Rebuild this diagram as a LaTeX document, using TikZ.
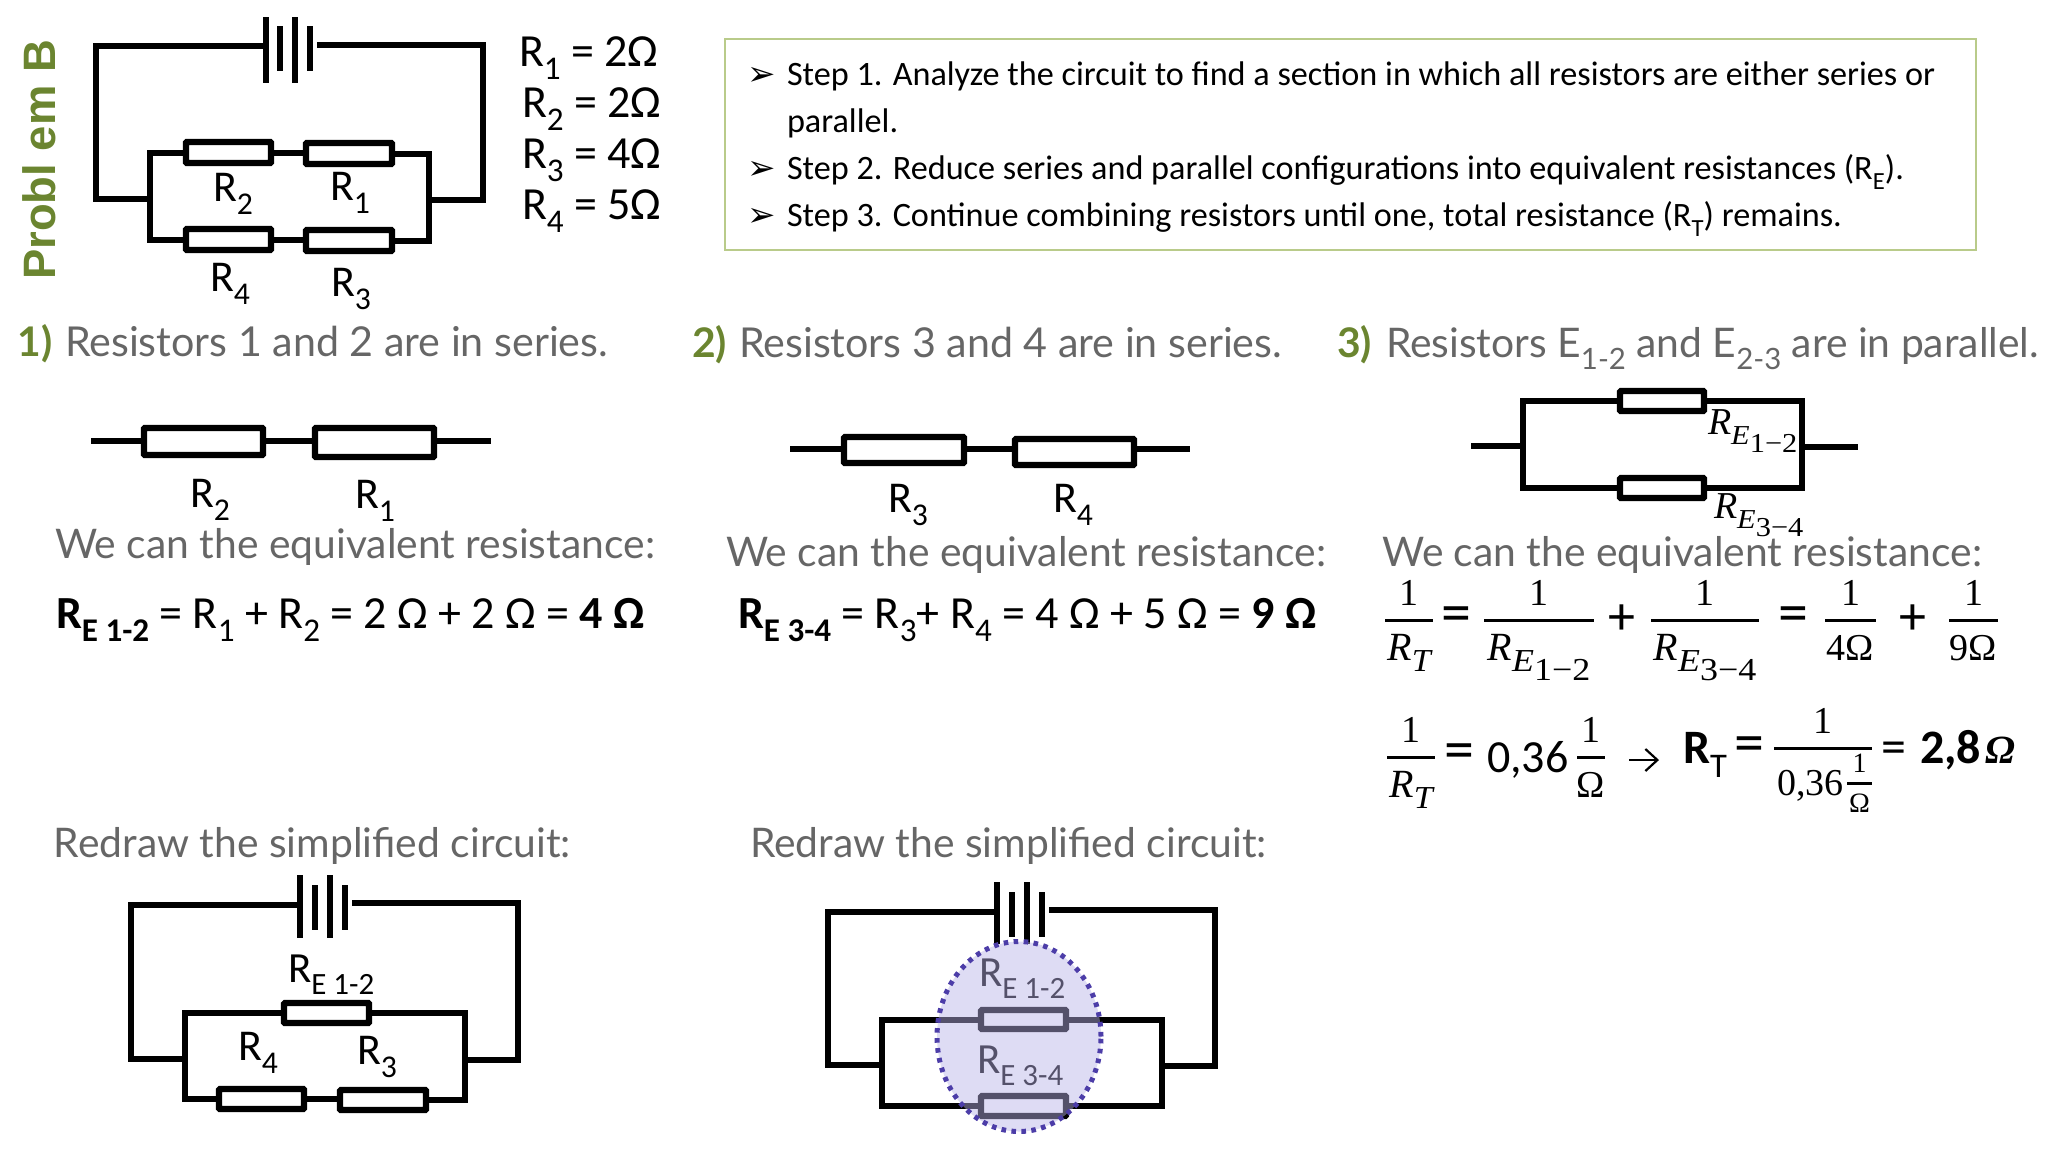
\documentclass[tikz,border=0pt]{standalone}
\usepackage[no-math]{fontspec}
\usetikzlibrary{shapes.geometric,arrows.meta}
\setmainfont{Carlito}
\newfontfamily\latof{Lato}
\newfontfamily\dvf{DejaVu Sans}
\newfontfamily\libf{Liberation Sans}
\newfontfamily\mthf{Liberation Serif}
\definecolor{olivegr}{HTML}{6B8530}
\definecolor{txtgray}{HTML}{666666}
\definecolor{boxgr}{HTML}{B9CB8A}
\definecolor{ellfill}{rgb}{.72,.70,.91}
\definecolor{elldot}{HTML}{4C3DA8}
\newcounter{tn}
\newcommand{\fsz}[1]{\fontsize{#1}{#1}\selectfont}
\newcommand{\sbs}[1]{\raisebox{-.3em}{\scalebox{.72}{#1}}}
\newcommand{\mR}[2]{{\mthf\itshape R\raisebox{-.28em}{\scalebox{.8}[.72]{E\raisebox{-.28em}{\upshape #1−#2}}}}}
\newcommand{\mRb}[2]{{\fsz{20}\mthf\itshape R\raisebox{-.28em}{\scalebox{.9}[.8]{E\raisebox{-.28em}{\upshape #1−#2}}}}}
\newcommand{\mRT}{{\fsz{20}\mthf\itshape R\raisebox{-.28em}{\scalebox{.85}[.8]{T}}}}
\newcommand{\Tx}[4]{\stepcounter{tn}\node[lbl,#3] (t\thetn) at (#1,#2) {#4};}
\newcommand{\Rs}[5]{\pgfmathsetmacro\rcx{(#2+#3)/2}\pgfmathsetmacro\rcy{(#4+#5)/2}\pgfmathsetmacro\rww{(#3-#2)*.5}\pgfmathsetmacro\rhh{(#5-#4)*.5}\node[resbox,minimum width=\rww pt,minimum height=\rhh pt] (#1) at (\rcx,\rcy) {};}
\newcommand{\Pl}[4]{\pgfmathsetmacro\rcy{(#3+#4)/2}\pgfmathsetmacro\rhh{(#4-#3)*.5}\node[plate,minimum height=\rhh pt] (#1) at (#2,\rcy) {};}
\newcommand{\Fr}[7]{\pgfmathsetmacro\fcx{(#1+#2)/2}\draw[fracbar] (#1,#3) -- (#2,#3);\Tx{\fcx}{#4}{anchor=base}{\mthf\fsz{19}#6}\Tx{\fcx}{#5}{anchor=base}{\mthf\fsz{19}#7}}
\newcommand{\lz}{\latof\fsz{20.4}}
\newcommand{\lzb}{\latof\fsz{20.6}}
\newcommand{\eqf}{\fsz{30}}
\newcommand{\plf}{\fsz{27}}
\tikzset{
  lbl/.style={inner sep=0,outer sep=0,anchor=base west,text=black},
  gray/.style={text=txtgray},
  resbox/.style={draw=black,line width=3.2pt,fill=white,inner sep=0,outer sep=0,rounded corners=.5pt},
  plate/.style={fill=black,inner sep=0,outer sep=0,minimum width=3pt},
  wire/.style={draw=black,line width=3pt,line join=miter},
  fracbar/.style={draw=black,line width=1.5pt},
  eqsign/.style={anchor=center}
}
\begin{document}
\begin{tikzpicture}[x=.5pt,y=-.5pt]
\useasboundingbox (0,0) rectangle (2048,1152);
% title
\node[inner sep=0,rotate=90,text=olivegr] (title) at (39,160) {\libf\bfseries\fsz{22.7}Probl em B};
% main circuit
\Pl{mb1}{266}{17}{83}\Pl{mb2}{280}{26}{71}\Pl{mb3}{295}{17}{83}\Pl{mb4}{310}{26}{71}
\coordinate (m1) at (96,46);\coordinate (m2) at (96,199);\coordinate (lb) at (150,199);
\coordinate (m4) at (317,45);\coordinate (m5) at (483,45);\coordinate (m6) at (483,200);\coordinate (rb) at (429,200);
\Rs{R2}{186}{271}{142}{163}\Rs{R1}{306}{392}{143}{164}\Rs{R4}{186}{271}{229}{250}\Rs{R3}{306}{392}{230}{251}
\draw[wire] (mb1 |- m1) -- (m1) -- (m2) -- (lb);
\draw[wire] (m4) -- (m5) -- (m6) -- (rb);
\draw[wire] (R2.west) -| (lb) |- (R4.west);
\draw[wire] (R1.east) -| (rb) |- (R3.east);
\draw[wire] (R2.east) -- (R2.east -| R1.west);
\draw[wire] (R4.east) -- (R4.east -| R3.west);
\Tx{213}{201}{}{\fsz{22}R\sbs{2}}
\Tx{330}{200}{}{\fsz{22}R\sbs{1}}
\Tx{210}{291}{}{\fsz{22}R\sbs{4}}
\Tx{331}{296}{}{\fsz{22}R\sbs{3}}
\Tx{519}{66}{}{\fsz{23}R\sbs{1} = 2Ω}
\Tx{522}{117}{}{\fsz{23}R\sbs{2} = 2Ω}
\Tx{522}{168}{}{\fsz{23}R\sbs{3} = 4Ω}
\Tx{522}{219}{}{\fsz{23}R\sbs{4} = 5Ω}
% steps
\coordinate (bx1) at (725,39);\coordinate (bx2) at (1976,250);
\draw[draw=boxgr,line width=.9pt] (bx1) rectangle (bx2);
\Tx{747}{85}{}{\dvf\fsz{17}➢}
\Tx{747}{179}{}{\dvf\fsz{17}➢}
\Tx{747}{226}{}{\dvf\fsz{17}➢}
\Tx{787}{85}{}{\fsz{17.1}Step 1. Analyze the circuit to find a section in which all resistors are either series or}
\Tx{787}{132}{}{\fsz{17.1}parallel.}
\Tx{787}{179}{}{\fsz{17.1}Step 2. Reduce series and parallel configurations into equivalent resistances (R\sbs{E}).}
\Tx{787}{226}{}{\fsz{17.1}Step 3. Continue combining resistors until one, total resistance (R\sbs{T}) remains.}
% headings
\Tx{18}{356}{text=olivegr}{\latof\bfseries\fsz{20.4}1)}
\Tx{65}{356}{gray}{\lzb Resistors 1 and 2 are in series.}
\Tx{692}{357}{text=olivegr}{\latof\bfseries\fsz{20.4}2)}
\Tx{739}{357}{gray}{\lzb Resistors 3 and 4 are in series.}
\Tx{1337}{357}{text=olivegr}{\latof\bfseries\fsz{20.4}3)}
\Tx{1386}{357}{gray}{\lz Resistors E\sbs{1-2} and E\sbs{2-3} are in parallel.}
% series 1
\Rs{sa2}{144}{263}{428}{455}\Rs{sa1}{315}{434}{428}{457}
\coordinate (sal) at (91,441);\coordinate (sar) at (491,441);
\draw[wire] (sal -| sa2.west) -- (sal);\draw[wire] (sa2.east |- sal) -- (sa1.west |- sal);\draw[wire] (sa1.east |- sal) -- (sar);
\Tx{190}{507}{}{\fsz{22}R\sbs{2}}
\Tx{355}{508}{}{\fsz{22}R\sbs{1}}
\Tx{55}{558}{gray}{\lz We can the equivalent resistance:}
\Tx{56}{628}{}{\fsz{23}\textbf{R\sbs{E 1-2}} = R\sbs{1} + R\sbs{2} = 2 Ω + 2 Ω = \textbf{4 Ω}}
% series 2
\Rs{sb3}{844}{964}{437}{463}\Rs{sb4}{1015}{1134}{439}{465}
\coordinate (sbl) at (790,449);\coordinate (sbr) at (1190,449);
\draw[wire] (sbl) -- (sb3.west |- sbl);\draw[wire] (sb3.east |- sbl) -- (sb4.west |- sbl);\draw[wire] (sb4.east |- sbl) -- (sbr);
\Tx{888}{512}{}{\fsz{22}R\sbs{3}}
\Tx{1053}{512}{}{\fsz{22}R\sbs{4}}
\Tx{726}{566}{gray}{\lz We can the equivalent resistance:}
\Tx{738}{628}{}{\fsz{23}\textbf{R\sbs{E 3-4}} = R\sbs{3}+ R\sbs{4} = 4 Ω + 5 Ω = \textbf{9 Ω}}
% parallel
\Rs{pa}{1620}{1704}{391}{411}\Rs{pb}{1620}{1704}{478}{498}
\coordinate (pl) at (1471,446);\coordinate (plj) at (1523,446);\coordinate (prj) at (1802,447);\coordinate (pr) at (1858,447);
\draw[wire] (pa.west) -| (plj) |- (pb.west);
\draw[wire] (pa.east) -| (prj) |- (pb.east);
\draw[wire] (pl) -- (plj);\draw[wire] (prj) -- (pr);
\Tx{1708}{434}{}{\fsz{19}\mR{1}{2}}
\Tx{1714}{518}{}{\fsz{19}\mR{3}{4}}
\Tx{1382}{566}{gray}{\lz We can the equivalent resistance:}
% eq 1
\Fr{1385}{1433}{620}{605}{660}{1}{\mRT}
\Tx{1456}{620}{eqsign}{\eqf =}
\Fr{1484}{1594}{620}{605}{660}{1}{\mRb{1}{2}}
\Tx{1622}{620}{eqsign}{\plf +}
\Fr{1651}{1759}{620}{605}{660}{1}{\mRb{3}{4}}
\Tx{1793}{620}{eqsign}{\eqf =}
\Fr{1825}{1876}{620}{605}{660}{1}{4Ω}
\Tx{1913}{620}{eqsign}{\plf +}
\Fr{1949}{1998}{620}{605}{660}{1}{9Ω}
% eq 2
\Fr{1387}{1435}{757}{742}{797}{1}{\mRT}
\Tx{1459}{757}{eqsign}{\eqf =}
\Tx{1487}{772}{}{\fsz{23}0,36}
\Fr{1577}{1605}{757}{742}{797}{1}{Ω}
\coordinate (arra) at (1629,760);\coordinate (arrb) at (1659,760);
\draw[line width=1.1pt,-{Straight Barb[length=6pt,width=11pt]}] (arra) -- (arrb);
\Tx{1683}{763}{}{\fsz{24}\textbf{R}\sbs{T}}
\Tx{1749}{750}{eqsign}{\eqf =}
\draw[fracbar] (1774,748) -- (1872,748);
\Tx{1823}{733}{anchor=base}{\mthf\fsz{19}1}
\Tx{1777}{795}{}{\mthf\fsz{19}0,36}
\draw[fracbar] (1847,783) -- (1872,783);
\Tx{1859.5}{772}{anchor=base}{\mthf\fsz{14}1}
\Tx{1859.5}{812}{anchor=base}{\mthf\fsz{14}Ω}
\Tx{1894}{753}{eqsign}{\fsz{25}=}
\Tx{1920}{763}{}{\fsz{24}\textbf{2,8}}
\Tx{1985}{763}{}{\mthf\bfseries\itshape\fsz{20}Ω}
% redraw 1
\Tx{54}{857}{gray}{\lz Redraw the simplified circuit:}
\Pl{cb1}{300}{875}{938}\Pl{cb2}{315}{885}{930}\Pl{cb3}{330}{875}{938}\Pl{cb4}{345}{885}{930}
\coordinate (c1) at (131,905);\coordinate (c2) at (131,1059);\coordinate (clb) at (185,1059);
\coordinate (c4) at (352,903);\coordinate (c5) at (518,903);\coordinate (c6) at (518,1060);\coordinate (crb) at (465,1060);
\Rs{cE}{284}{369}{1003}{1023}\Rs{c4r}{219}{304}{1089}{1109}\Rs{c3r}{340}{426}{1090}{1110}
\draw[wire] (cb1 |- c1) -- (c1) -- (c2) -- (clb);
\draw[wire] (c4) -- (c5) -- (c6) -- (crb);
\draw[wire] (cE.west) -| (clb) |- (c4r.west);
\draw[wire] (cE.east) -| (crb) |- (c3r.east);
\draw[wire] (c4r.east) -- (c4r.east -| c3r.west);
\Tx{288}{982}{}{\fsz{21.5}R\sbs{E 1-2}}
\Tx{238}{1060}{}{\fsz{22}R\sbs{4}}
\Tx{357}{1064}{}{\fsz{22}R\sbs{3}}
% redraw 2
\Tx{750}{857}{gray}{\lz Redraw the simplified circuit:}
\Pl{db1}{997}{882}{944}\Pl{db2}{1012}{892}{937}\Pl{db3}{1027}{882}{944}\Pl{db4}{1042}{892}{937}
\coordinate (d1) at (828,912);\coordinate (d2) at (828,1065);\coordinate (dlb) at (882,1065);
\coordinate (d4) at (1049,910);\coordinate (d5) at (1215,910);\coordinate (d6) at (1215,1066);\coordinate (drb) at (1162,1066);
\Rs{dA}{981}{1066}{1010}{1029}\Rs{dB}{981}{1066}{1096}{1116}
\draw[wire] (db1 |- d1) -- (d1) -- (d2) -- (dlb);
\draw[wire] (d4) -- (d5) -- (d6) -- (drb);
\draw[wire] (dA.west) -| (dlb) |- (dB.west);
\draw[wire] (dA.east) -| (drb) |- (dB.east);
\Tx{979}{986}{}{\fsz{21.5}R\sbs{E 1-2}}
\Tx{977}{1073}{}{\fsz{21.5}R\sbs{E 3-4}}
\node[ellipse,inner sep=0,outer sep=0,minimum width=82pt,minimum height=95pt,fill=ellfill,fill opacity=.46,draw=elldot,draw opacity=1,line width=2.5pt,dash pattern=on 2.3pt off 2.7pt] (hl) at (1019,1036.5) {};
\end{tikzpicture}
\end{document}
